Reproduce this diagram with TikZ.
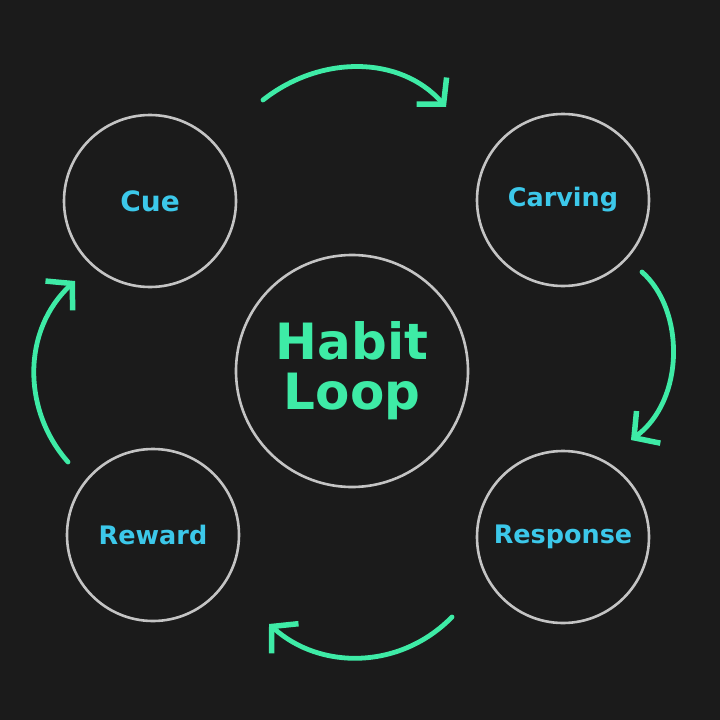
\documentclass[tikz,border=0pt]{standalone}
\usepackage{fontspec}
\setmainfont{DejaVu Sans}
\usetikzlibrary{arrows.meta}
\definecolor{bg}{HTML}{1B1B1B}
\definecolor{ring}{HTML}{C4C4C4}
\definecolor{mint}{HTML}{3EEBA6}
\definecolor{cyanlbl}{HTML}{3CC8EA}
\tikzset{
  stage/.style={circle, draw=ring, line width=2.6pt, minimum size=172pt, inner sep=0pt,
    text=cyanlbl, font=\bfseries\fontsize{25.5}{30}\selectfont},
  hub/.style={circle, draw=ring, line width=2.6pt, minimum size=232pt, inner sep=0pt,
    text=mint, align=center, font=\bfseries\fontsize{50}{50}\selectfont},
  loopArrow/.style={draw=mint, line width=4.8pt, line cap=round,
    -{Straight Barb[length=18pt, width=40pt, line width=5.5pt]}},
}
\begin{document}
\begin{tikzpicture}[x=1pt, y=-1pt]
\fill[bg] (0,0) rectangle (720,720);
\useasboundingbox (0,0) rectangle (720,720);

\node[stage] (cue) at (150,201) {\fontsize{28}{30}\selectfont Cue};
\node[stage] (carving) at (563,200) {Carving};
\node[stage] (reward) at (153,535) {Reward};
\node[stage] (response) at (563,537) {Response};
\node[hub] (habit) at (352,371) {Habit\\Loop};

\coordinate (a1s) at (263,100);
\coordinate (a1e) at (446,107);
\coordinate (a2s) at (642,272);
\coordinate (a2e) at (631,440);
\coordinate (a3s) at (452,617);
\coordinate (a3e) at (269,624);
\coordinate (a4s) at (68,462);
\coordinate (a4e) at (75,281);

\draw[loopArrow] (a1s) .. controls (320,55) and (400,55) .. (a1e);
\draw[loopArrow] (a2s) .. controls (685,310) and (685,400) .. (a2e);
\draw[loopArrow] (a3s) .. controls (400,670) and (320,670) .. (a3e);
\draw[loopArrow] (a4s) .. controls (22,410) and (22,330) .. (a4e);
\end{tikzpicture}
\end{document}
